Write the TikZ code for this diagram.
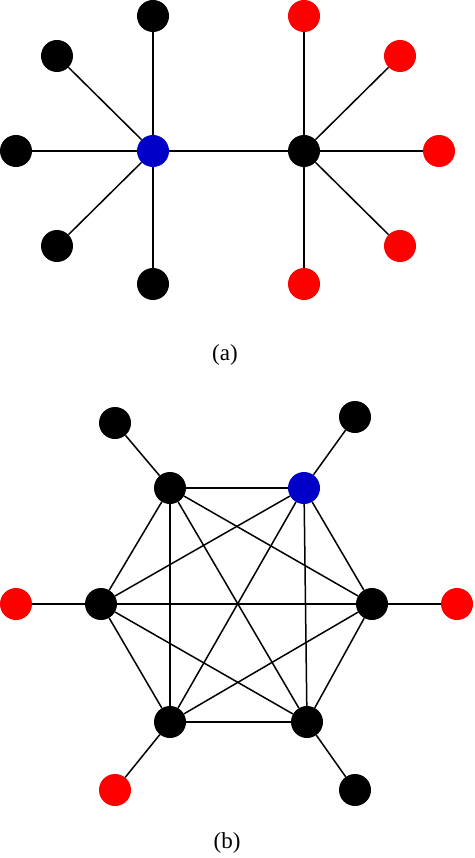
\documentclass[tikz,border=0pt]{standalone}
\usepackage{fontspec}
\setmainfont{Liberation Serif}
\begin{document}
\begin{tikzpicture}[x=1pt,y=-1pt,
  vtx/.style={circle,inner sep=0pt,minimum size=32pt,fill=#1},
  vtx/.default=black,
  edge/.style={line width=1.5pt,black},
  lbl/.style={font=\fontsize{23}{27}\selectfont}]
\useasboundingbox (0,0) rectangle (474,858);
\definecolor{vblue}{RGB}{0,0,200}
\definecolor{vred}{RGB}{255,0,0}
% (a)
\node[vtx=vblue] (c1) at (153,151) {};
\node[vtx] (c2) at (304,151) {};
\node[vtx] (a1) at (153,16) {};
\node[vtx] (a2) at (57,56) {};
\node[vtx] (a3) at (16,151) {};
\node[vtx] (a4) at (57,246) {};
\node[vtx] (a5) at (153,284) {};
\node[vtx=vred] (b1) at (304,16) {};
\node[vtx=vred] (b2) at (400,56) {};
\node[vtx=vred] (b3) at (439,151) {};
\node[vtx=vred] (b4) at (400,246) {};
\node[vtx=vred] (b5) at (304,284) {};
\foreach \n in {a1,a2,a3,a4,a5} \draw[edge] (c1) -- (\n);
\foreach \n in {b1,b2,b3,b4,b5} \draw[edge] (c2) -- (\n);
\draw[edge] (c1) -- (c2);
\node[lbl] (la) at (225,355) {(a)};
% (b)
\node[vtx] (h1) at (170,488) {};
\node[vtx=vblue] (h2) at (304,488) {};
\node[vtx] (h3) at (372,604) {};
\node[vtx] (h4) at (307,722) {};
\node[vtx] (h5) at (170,722) {};
\node[vtx] (h6) at (101,604) {};
\node[vtx] (o1) at (115,423) {};
\node[vtx] (o2) at (355,417) {};
\node[vtx=vred] (o3) at (457,604) {};
\node[vtx] (o4) at (355,790) {};
\node[vtx=vred] (o5) at (115,790) {};
\node[vtx=vred] (o6) at (16,604) {};
\foreach \i/\j in {h1/h2,h1/h3,h1/h4,h1/h5,h1/h6,h2/h3,h2/h4,h2/h5,h2/h6,h3/h4,h3/h5,h3/h6,h4/h5,h4/h6,h5/h6}
  \draw[edge] (\i) -- (\j);
\draw[edge] (h1) -- (o1);
\draw[edge] (h2) -- (o2);
\draw[edge] (h3) -- (o3);
\draw[edge] (h4) -- (o4);
\draw[edge] (h5) -- (o5);
\draw[edge] (h6) -- (o6);
\node[lbl] (lb) at (227,843) {(b)};
\end{tikzpicture}
\end{document}
